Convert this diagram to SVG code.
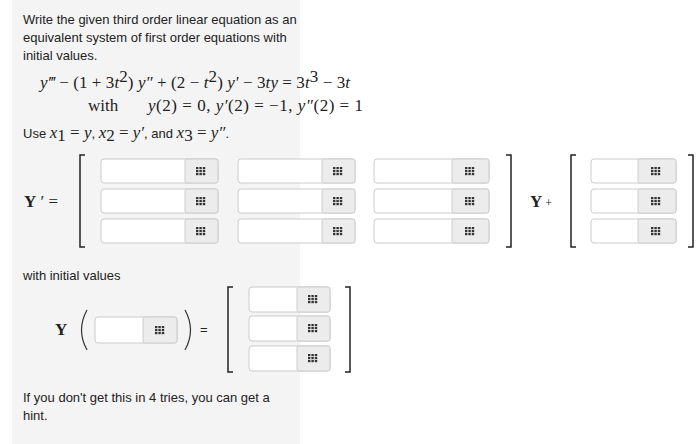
<svg xmlns="http://www.w3.org/2000/svg" width="700" height="444" viewBox="0 0 700 444">
<style>
text{font-family:"Liberation Sans",Arial,sans-serif;font-size:13px;fill:#222}
.m{font-family:"Liberation Serif","Times New Roman",serif;font-style:italic;font-size:17px}
.r{font-family:"Liberation Serif","Times New Roman",serif;font-size:17px;font-style:normal}
.inp{fill:#fff;stroke:#ccc;stroke-width:1}
.btn{fill:#ececec;stroke:#ccc;stroke-width:1}
.br{fill:none;stroke:#222;stroke-width:1.5}
</style>
<defs>
<g id="ic"><g fill="#333">
<rect x="-5" y="-4" width="2.4" height="2.2"/><rect x="-1.6" y="-4" width="2.4" height="2.2"/><rect x="1.8" y="-4" width="2.4" height="2.2"/>
<rect x="-5" y="-1" width="2.4" height="2.2"/><rect x="-1.6" y="-1" width="2.4" height="2.2"/><rect x="1.8" y="-1" width="2.4" height="2.2"/>
<rect x="-5" y="2" width="2.4" height="2.2"/><rect x="-1.6" y="2" width="2.4" height="2.2"/><rect x="1.8" y="2" width="2.4" height="2.2"/>
</g></g>
</defs>
<rect width="700" height="444" fill="#fff"/>
<rect x="12" y="0" width="288" height="444" fill="#f4f4f4"/>
<text x="23" y="24">Write the given third order linear equation as an</text>
<text x="23" y="42">equivalent system of first order equations with</text>
<text x="23" y="60">initial values.</text>
<text x="40" y="88" class="m" textLength="310" lengthAdjust="spacing">y‴ <tspan class="r">− (1 + 3</tspan>t<tspan class="r" font-size="10" dy="-6">2</tspan><tspan class="r" dy="6">) </tspan>y″ <tspan class="r">+ (2 − </tspan>t<tspan class="r" font-size="10" dy="-6">2</tspan><tspan class="r" dy="6">) </tspan>y′ <tspan class="r">− 3</tspan>ty <tspan class="r">= 3</tspan>t<tspan class="r" font-size="10" dy="-6">3</tspan><tspan class="r" dy="6"> − 3</tspan>t</text>
<text x="88" y="111" class="r">with</text>
<text x="148" y="111" class="m" textLength="215" lengthAdjust="spacing">y<tspan class="r">(2) = 0,  </tspan>y′<tspan class="r">(2) = −1,  </tspan>y″<tspan class="r">(2) = 1</tspan></text>
<text x="23" y="138">Use <tspan class="m" font-size="15">x</tspan><tspan font-size="10" class="r" dy="3">1</tspan><tspan class="r" font-size="15" dy="-3"> = </tspan><tspan class="m" font-size="15">y</tspan>, <tspan class="m" font-size="15">x</tspan><tspan font-size="10" class="r" dy="3">2</tspan><tspan class="r" font-size="15" dy="-3"> = </tspan><tspan class="m" font-size="15">y′</tspan>, and <tspan class="m" font-size="15">x</tspan><tspan font-size="10" class="r" dy="3">3</tspan><tspan class="r" font-size="15" dy="-3"> = </tspan><tspan class="m" font-size="15">y″</tspan>.</text>
<g id="Yprime"><text x="24" y="207" class="r" font-weight="bold" font-size="15">Y<tspan font-weight="normal"> ′ =</tspan></text></g>
<g id="matrixA">
<path class="br" d="M85 155H80V247H85"/>
<path class="br" d="M506 155H511V247H506"/>
<g id="cells">
<g><rect class="inp" x="101" y="159" width="117" height="24" rx="3"/><rect class="btn" x="185" y="159" width="33" height="24" rx="2"/><use href="#ic" x="201" y="171"/></g>
<g><rect class="inp" x="101" y="189" width="117" height="24" rx="3"/><rect class="btn" x="185" y="189" width="33" height="24" rx="2"/><use href="#ic" x="201" y="201"/></g>
<g><rect class="inp" x="101" y="219" width="117" height="24" rx="3"/><rect class="btn" x="185" y="219" width="33" height="24" rx="2"/><use href="#ic" x="201" y="231"/></g>
<g><rect class="inp" x="238" y="159" width="117" height="24" rx="3"/><rect class="btn" x="322" y="159" width="33" height="24" rx="2"/><use href="#ic" x="338" y="171"/></g>
<g><rect class="inp" x="238" y="189" width="117" height="24" rx="3"/><rect class="btn" x="322" y="189" width="33" height="24" rx="2"/><use href="#ic" x="338" y="201"/></g>
<g><rect class="inp" x="238" y="219" width="117" height="24" rx="3"/><rect class="btn" x="322" y="219" width="33" height="24" rx="2"/><use href="#ic" x="338" y="231"/></g>
<g><rect class="inp" x="374" y="159" width="115" height="24" rx="3"/><rect class="btn" x="452" y="159" width="37" height="24" rx="2"/><use href="#ic" x="470" y="171"/></g>
<g><rect class="inp" x="374" y="189" width="115" height="24" rx="3"/><rect class="btn" x="452" y="189" width="37" height="24" rx="2"/><use href="#ic" x="470" y="201"/></g>
<g><rect class="inp" x="374" y="219" width="115" height="24" rx="3"/><rect class="btn" x="452" y="219" width="37" height="24" rx="2"/><use href="#ic" x="470" y="231"/></g>
</g>
</g>
<g id="Yplus"><text x="530" y="207" class="r" font-weight="bold" font-size="15">Y<tspan font-weight="normal" font-size="12"> +</tspan></text></g>
<g id="vectorB">
<path class="br" d="M576 155H571V247H576"/>
<path class="br" d="M688 155H693V247H688"/>
<g><rect class="inp" x="591" y="159" width="85" height="24" rx="3"/><rect class="btn" x="638" y="159" width="38" height="24" rx="2"/><use href="#ic" x="656" y="171"/></g>
<g><rect class="inp" x="591" y="189" width="85" height="24" rx="3"/><rect class="btn" x="638" y="189" width="38" height="24" rx="2"/><use href="#ic" x="656" y="201"/></g>
<g><rect class="inp" x="591" y="219" width="85" height="24" rx="3"/><rect class="btn" x="638" y="219" width="38" height="24" rx="2"/><use href="#ic" x="656" y="231"/></g>
</g>
<text x="23" y="280">with initial values</text>
<g id="initial">
<text x="55" y="335" class="r" font-weight="bold" font-size="15">Y</text>
<path d="M87 310Q76 330 87 350" fill="none" stroke="#333" stroke-width="1.2"/>
<g><rect class="inp" x="95" y="317" width="82" height="26" rx="3"/><rect class="btn" x="143" y="317" width="34" height="26" rx="2"/><use href="#ic" x="160" y="330"/></g>
<path d="M185 310Q196 330 185 350" fill="none" stroke="#333" stroke-width="1.2"/>
<text x="200" y="334" fill="#555">=</text>
<path class="br" d="M233 287H228V372H233"/>
<path class="br" d="M345 287H350V372H345"/>
<g><rect class="inp" x="249" y="287" width="81" height="25" rx="3"/><rect class="btn" x="297" y="287" width="33" height="25" rx="2"/><use href="#ic" x="313" y="299"/></g>
<g><rect class="inp" x="249" y="316" width="81" height="25" rx="3"/><rect class="btn" x="297" y="316" width="33" height="25" rx="2"/><use href="#ic" x="313" y="328"/></g>
<g><rect class="inp" x="249" y="346" width="81" height="25" rx="3"/><rect class="btn" x="297" y="346" width="33" height="25" rx="2"/><use href="#ic" x="313" y="358"/></g>
</g>
<text x="23" y="402">If you don't get this in 4 tries, you can get a</text>
<text x="23" y="420">hint.</text>
</svg>
